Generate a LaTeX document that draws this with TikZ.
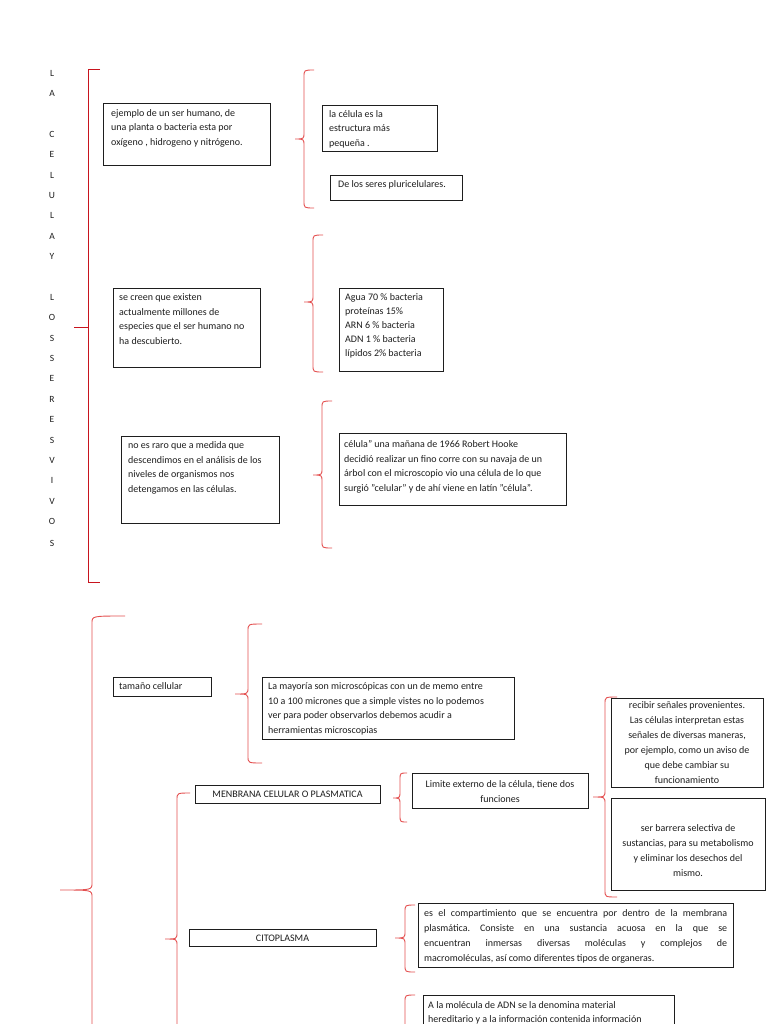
\documentclass[tikz,border=0pt]{standalone}
\usepackage{fontspec}
\setmainfont{Carlito}
\usetikzlibrary{fit}
\definecolor{bred}{RGB}{200,20,30}
\definecolor{brc}{RGB}{228,80,80}
\definecolor{ink}{RGB}{30,30,30}
\newcommand\fs{\fontsize{10}{14.5}\selectfont\frenchspacing}
% brace: vx, y1, y2, tx, ty, hook
\newcommand\mybrace[6]{%
  \draw[brc, line width=0.9pt]
    (#1+#6,#2) .. controls (#1,#2) .. (#1,#2+7) -- (#1,#5-7)
    .. controls (#1,#5) .. (#4,#5) .. controls (#1,#5) .. (#1,#5+7)
    -- (#1,#3-7) .. controls (#1,#3) .. (#1+#6,#3);}
\begin{document}
\begin{tikzpicture}[x=1pt,y=-1pt,
  box/.style={draw=ink, line width=0.9pt, inner sep=0pt},
  txt/.style={inner sep=0pt, anchor=base west, text=ink, font=\fs},
  ctxt/.style={inner sep=0pt, anchor=base, text=ink, font=\fs},
  letter/.style={inner sep=0pt, text=ink, font=\fontsize{9.5}{11}\selectfont}]
\useasboundingbox (0,0) rectangle (768,1024);
\fill[white] (0,0) rectangle (768,1024);
\clip (0,0) rectangle (768,1024);

% vertical title letters
\foreach \l/\y [count=\i] in {L/73,A/93,C/134,E/154,L/175,U/195,L/215,A/236,Y/256,L/297,O/317,S/338,S/358,E/378,R/399,E/419,S/440,V/460,I/480,V/501,O/521,S/543}
  \node[letter] (l\i) at (52,\y) {\l};

% main bracket
\draw[bred, line width=1pt] (100,70) -- (88,70) -- (88,582) -- (100,582);
\draw[bred, line width=1pt] (74,327) -- (88,327);

% boxes
\node[box, fit={(103,103) (270,165)}] (b1) {};
\node[box, fit={(322,105) (437,151)}] (b2) {};
\node[box, fit={(330,175) (462,200)}] (b3) {};
\node[box, fit={(113,288) (260,367)}] (b4) {};
\node[box, fit={(339,288) (443,371)}] (b5) {};
\node[box, fit={(121,436) (279,523)}] (b6) {};
\node[box, fit={(339,433) (566,505)}] (b7) {};
\node[box, fit={(113,677) (211,696)}] (b8) {};
\node[box, fit={(262,677) (514,739)}] (b9) {};
\node[box, fit={(195,785) (380,803)}] (b10) {};
\node[box, fit={(412,773) (588,808)}] (b11) {};
\node[box, fit={(611,698) (763,787)}] (b12) {};
\node[box, fit={(611,798) (765,890)}] (b13) {};
\node[box, fit={(189,929) (376,946)}] (b14) {};
\node[box, fit={(418,903) (733,967)}] (b15) {};
\node[box, fit={(423,995) (674,1040)}] (b16) {};

% texts
\node[txt] (t1) at (111,116.5) {\parbox[t]{160pt}{\raggedright ejemplo de un ser humano, de\\una planta o bacteria esta por\\oxígeno , hidrogeno y nitrógeno.}};
\node[txt] (t2) at (329,117.5) {\parbox[t]{110pt}{\raggedright la célula es la\\estructura más\\pequeña .}};
\node[txt] (t3) at (338,187.5) {De los seres pluricelulares.};
\node[txt] (t4) at (119,300.5) {\parbox[t]{140pt}{\raggedright se creen que existen\\actualmente millones de\\especies que el ser humano no\\ha descubierto.}};
\node[txt] (t5) at (345,300.5) {\parbox[t]{100pt}{\fontsize{10}{14}\selectfont\raggedright Agua 70 \% bacteria\\proteínas 15\%\\ARN 6 \% bacteria\\ADN 1 \% bacteria\\lípidos 2\% bacteria}};
\node[txt] (t6) at (128,448.5) {\parbox[t]{150pt}{\raggedright no es raro que a medida que\\descendimos en el análisis de los\\niveles de organismos nos\\detengamos en las células.}};
\node[txt] (t7) at (344,447.5) {\parbox[t]{222pt}{\raggedright célula" una mañana de 1966 Robert Hooke\\decidió realizar un fino corre con su navaja de un\\árbol con el microscopio vio una célula de lo que\\surgió "celular" y de ahí viene en latín "célula".}};
\node[txt] (t8) at (119,689.5) {tamaño cellular};
\node[txt] (t9) at (268,689.5) {\parbox[t]{245pt}{\raggedright La mayoría son microscópicas con un de memo entre\\10 a 100 micrones que a simple vistes no lo podemos\\ver para poder observarlos debemos acudir a\\herramientas microscopias}};
\node[ctxt] (t10) at (287.5,797.5) {MENBRANA CELULAR O PLASMATICA};
\node[ctxt] (t11) at (500,787.5) {\parbox[t]{174pt}{\centering Limite externo de la célula, tiene dos\\funciones}};
\node[ctxt] (t12) at (687,708.5) {\parbox[t]{150pt}{\fontsize{10}{15}\selectfont\centering recibir señales provenientes.\\Las células interpretan estas\\señales de diversas maneras,\\por ejemplo, como un aviso de\\que debe cambiar su\\funcionamiento}};
\node[ctxt] (t13) at (688,831.5) {\parbox[t]{152pt}{\fontsize{10}{15}\selectfont\centering ser barrera selectiva de\\sustancias, para su metabolismo\\y eliminar los desechos del\\mismo.}};
\node[ctxt] (t14) at (282.5,941.5) {CITOPLASMA};
\node[txt] (t15) at (424,916.5) {\parbox[t]{303pt}{\fontsize{10}{15}\selectfont\frenchspacing es el compartimiento que se encuentra por dentro de la membrana\linebreak plasmática. Consiste en una sustancia acuosa en la que se\linebreak encuentran inmersas diversas moléculas y complejos de\linebreak macromoléculas, así como diferentes tipos de organeras.}};
\node[txt] (t16) at (428,1008) {\parbox[t]{245pt}{\fontsize{10}{14.5}\selectfont\raggedright A la molécula de ADN se la denomina material\\hereditario y a la información contenida información}};

% braces
\mybrace{304}{70}{208}{295}{139}{10}
\mybrace{313}{235}{372}{304}{302}{10}
\mybrace{322}{401}{548}{313}{475}{10}
\mybrace{92}{616}{1300}{60}{890}{33}
\mybrace{248}{624}{763}{235}{694}{14}
\mybrace{177}{793}{1200}{165}{939}{13}
\mybrace{400}{773}{822}{393}{798}{7}
\mybrace{605}{697}{897}{593}{797}{12}
\mybrace{405}{905}{972}{395}{938}{10}
\mybrace{405}{995}{1300}{395}{1150}{10}
\end{tikzpicture}
\end{document}
